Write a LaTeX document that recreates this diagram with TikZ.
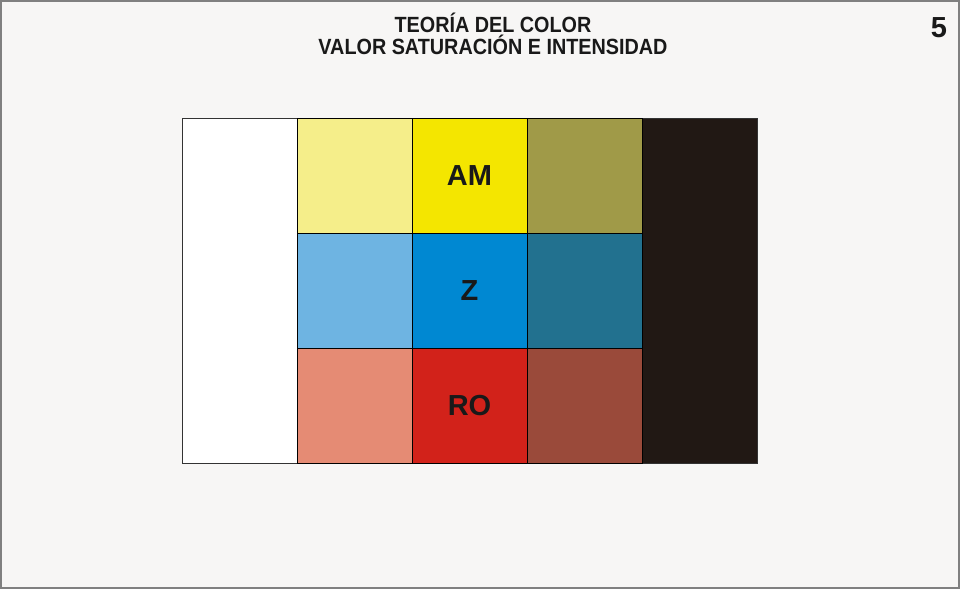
\documentclass[tikz,border=0pt]{standalone}
\usepackage{fontspec}
\setmainfont{Liberation Sans}
\newfontfamily\estrecha[FakeStretch=0.9]{Liberation Sans}
\usepackage{tikz}

\definecolor{fondo}{HTML}{F7F6F5}
\definecolor{amclaro}{HTML}{F5EE8A}
\definecolor{am}{HTML}{F4E600}
\definecolor{amoscuro}{HTML}{A09A48}
\definecolor{zclaro}{HTML}{6EB4E2}
\definecolor{z}{HTML}{0088D2}
\definecolor{zoscuro}{HTML}{22718F}
\definecolor{roclaro}{HTML}{E58B74}
\definecolor{ro}{HTML}{D2221A}
\definecolor{rooscuro}{HTML}{9A4A3A}
\definecolor{negro}{HTML}{211814}

\begin{document}
\begin{tikzpicture}[x=1pt,y=-1pt]
  \tikzset{celda/.style={draw=black,line width=0.6pt,minimum width=115pt,minimum height=115pt,inner sep=0pt,fill=#1},
           columna/.style={draw=black!80,line width=0.6pt,minimum width=115pt,minimum height=345pt,inner sep=0pt,fill=#1},
           letra/.style={font=\bfseries\fontsize{29}{29}\selectfont,text=black!90}}

  \useasboundingbox (0,0) rectangle (960,589);
  \fill[fondo] (0,0) rectangle (960,589);
  \draw[gray,line width=2pt] (1,1) rectangle (959,588);

  % titulo
  \node[font=\estrecha\bfseries\fontsize{22}{21.5}\selectfont,align=center,text=black!90] (titulo) at (493,34) {TEORÍA DEL COLOR\\VALOR SATURACIÓN E INTENSIDAD};
  \node[font=\bfseries\fontsize{29}{29}\selectfont,text=black!90] (num) at (939,28) {5};

  % columnas de blanco y negro
  \node [columna = white] (blanco) at (239.5,290.5) {};
  \node [columna = negro] (negro) at (699.5,290.5) {};

  % amarillo
  \node [celda = amclaro] (AMa) at (354.5,175.5) {};
  \node [celda = am, letra] (AM) at (469.5,175.5) {AM};
  \node [celda = amoscuro] (AMb) at (584.5,175.5) {};
  % azul
  \node [celda = zclaro] (Za) at (354.5,290.5) {};
  \node [celda = z, letra] (Z) at (469.5,290.5) {Z};
  \node [celda = zoscuro] (Zb) at (584.5,290.5) {};
  % rojo
  \node [celda = roclaro] (ROa) at (354.5,405.5) {};
  \node [celda = ro, letra] (RO) at (469.5,405.5) {RO};
  \node [celda = rooscuro] (ROb) at (584.5,405.5) {};
\end{tikzpicture}
\end{document}
